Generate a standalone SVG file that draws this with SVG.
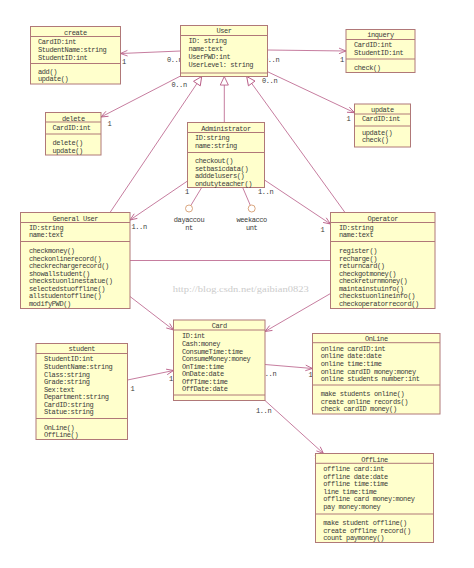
<svg xmlns="http://www.w3.org/2000/svg" width="474" height="568" viewBox="0 0 474 568">
<defs>
<style>
rect.b{fill:#FFFFCC;stroke:#B07878;stroke-width:1}
line.s{stroke:#B07878;stroke-width:1}
text{font-family:"Liberation Mono","DejaVu Sans Mono",monospace;font-size:7px;letter-spacing:-0.4px;fill:#3a3a3a}
text.c{text-anchor:middle}
.cn line,.cn path{stroke:#B85C86;stroke-width:0.8;fill:none}
.cn circle{stroke:#D09060;stroke-width:0.8;fill:#fff}
.wm{font-family:"Liberation Serif",serif;font-size:8.5px;fill:#cccccc;letter-spacing:0}
</style>
<marker id="arr" viewBox="0 0 10 10" refX="10" refY="5" markerWidth="7" markerHeight="7" markerUnits="userSpaceOnUse" orient="auto" overflow="visible"><path d="M0,1 L10,5 L0,9" fill="none" stroke="#B85C86" stroke-width="1.2"/></marker>
<marker id="gen" viewBox="0 0 10 10" refX="10" refY="5" markerWidth="9" markerHeight="9" markerUnits="userSpaceOnUse" orient="auto-start-reverse" overflow="visible"><path d="M0.5,0.5 L10,5 L0.5,9.5 z" fill="#fff" stroke="#B85C86" stroke-width="1"/></marker>
</defs>
<rect width="474" height="568" fill="#fff"/>
<text class="wm" x="172.7" y="292" textLength="136" lengthAdjust="spacingAndGlyphs">http://blog.csdn.net/gaibian0823</text>

<g id="connectors" class="cn">
<line x1="180.5" y1="51" x2="120.5" y2="53.5" marker-end="url(#arr)"/>
<line x1="180.5" y1="76" x2="101" y2="117" marker-end="url(#arr)"/>
<line x1="267.5" y1="50" x2="346" y2="51" marker-end="url(#arr)"/>
<line x1="267.5" y1="71.7" x2="354.5" y2="112.7" marker-end="url(#arr)"/>
<path d="M201.7,76.5 L110,212.5" marker-start="url(#gen)"/>
<path d="M224.3,76.5 L224.3,122.5" marker-start="url(#gen)"/>
<path d="M246.7,76.5 L345,212.5" marker-start="url(#gen)"/>
<line x1="187.5" y1="181" x2="130" y2="220" marker-end="url(#arr)"/>
<line x1="264.5" y1="180" x2="330.5" y2="224" marker-end="url(#arr)"/>
<line x1="201.7" y1="187.5" x2="190.8" y2="205.5"/>
<circle cx="189" cy="208.5" r="3.5"/>
<line x1="242.7" y1="187.5" x2="250.3" y2="205.3"/>
<circle cx="251.7" cy="208.5" r="3.5"/>
<line x1="130" y1="260.5" x2="330.5" y2="260.5"/>
<line x1="130" y1="296.5" x2="173.5" y2="330" marker-end="url(#arr)"/>
<line x1="330.5" y1="293.5" x2="265" y2="331.5" marker-end="url(#arr)"/>
<line x1="127.5" y1="380" x2="173.5" y2="370.5" marker-end="url(#arr)"/>
<line x1="265" y1="364.5" x2="312.5" y2="368.5" marker-end="url(#arr)"/>
<line x1="265" y1="400.5" x2="323.5" y2="453.5" marker-end="url(#arr)"/>
<text x="167" y="62.3">0..n</text>
<text x="122" y="64">1</text>
<text x="171.5" y="87.3">0..n</text>
<text x="107.5" y="125.5">1</text>
<text x="264" y="61.6">0..n</text>
<text x="340" y="61.6">1</text>
<text x="262" y="83.3">0..n</text>
<text x="346.5" y="120.5">1</text>
<text x="185" y="194">1</text>
<text x="131.5" y="229">1..n</text>
<text x="258" y="194">1..n</text>
<text x="320.5" y="232.3">1</text>
<text class="c" x="189" y="222.3">dayaccou</text>
<text class="c" x="189" y="230">nt</text>
<text class="c" x="251.7" y="222.3">weekacco</text>
<text class="c" x="251.7" y="230">unt</text>
<text x="130.5" y="390.5">1</text>
<text x="169" y="381">1</text>
<text x="261" y="375.5">1..n</text>
<text x="308.5" y="377.3">1</text>
<text x="256" y="412.5">1..n</text>
<text x="314.5" y="458.5">1</text>
</g>

<g id="create">
<rect class="b" x="30.5" y="26.5" width="90" height="57.5"/>
<line class="s" x1="30.5" y1="36.5" x2="120.5" y2="36.5"/>
<line class="s" x1="30.5" y1="63.5" x2="120.5" y2="63.5"/>
<text class="c" x="75.5" y="34.5">create</text>
<text x="38" y="43.5">CardID:int</text>
<text x="38" y="51.5">StudentName:string</text>
<text x="38" y="59.5">StudentID:int</text>
<text x="38" y="73.5">add()</text>
<text x="38" y="81.3">update()</text>
</g>

<g id="user">
<rect class="b" x="180.5" y="25.5" width="87" height="51"/>
<line class="s" x1="180.5" y1="35.5" x2="267.5" y2="35.5"/>
<line class="s" x1="180.5" y1="73" x2="267.5" y2="73"/>
<text class="c" x="224" y="33.3">User</text>
<text x="188.5" y="43">ID: string</text>
<text x="188.5" y="51">name:text</text>
<text x="188.5" y="59">UserPWD:int</text>
<text x="188.5" y="66.8">UserLevel: string</text>
</g>

<g id="inquery">
<rect class="b" x="346" y="29.5" width="69" height="43"/>
<line class="s" x1="346" y1="39.5" x2="415" y2="39.5"/>
<line class="s" x1="346" y1="59" x2="415" y2="59"/>
<text class="c" x="380.5" y="37.3">inquery</text>
<text x="354" y="47.3">CardID:int</text>
<text x="354" y="55.3">StudentID:int</text>
<text x="354" y="69.5">check()</text>
</g>

<g id="update">
<rect class="b" x="354.5" y="104" width="56" height="43"/>
<line class="s" x1="354.5" y1="114" x2="410.5" y2="114"/>
<line class="s" x1="354.5" y1="126" x2="410.5" y2="126"/>
<text class="c" x="382.5" y="112">update</text>
<text x="362" y="120.8">CardID:int</text>
<text x="362" y="134.6">update()</text>
<text x="362" y="142.3">check()</text>
</g>

<g id="delete">
<rect class="b" x="45.5" y="112.5" width="55.5" height="42.5"/>
<line class="s" x1="45.5" y1="122" x2="101" y2="122"/>
<line class="s" x1="45.5" y1="134" x2="101" y2="134"/>
<text class="c" x="73.3" y="120.5">delete</text>
<text x="52.5" y="130">CardID:int</text>
<text x="52.5" y="144.6">delete()</text>
<text x="52.5" y="152.8">update()</text>
</g>

<g id="administrator">
<rect class="b" x="187.5" y="122.5" width="77" height="65"/>
<line class="s" x1="187.5" y1="132.5" x2="264.5" y2="132.5"/>
<line class="s" x1="187.5" y1="152.5" x2="264.5" y2="152.5"/>
<text class="c" x="226" y="130.6">Administrator</text>
<text x="195" y="139.6">ID:string</text>
<text x="195" y="147.6">name:string</text>
<text x="195" y="163">checkout()</text>
<text x="195" y="170.6">setbasicdata()</text>
<text x="195" y="178.3">adddelusers()</text>
<text x="195" y="185.6">ondutyteacher()</text>
</g>

<g id="general-user">
<rect class="b" x="20.5" y="212.5" width="109.5" height="96"/>
<line class="s" x1="20.5" y1="222.5" x2="130" y2="222.5"/>
<line class="s" x1="20.5" y1="241.5" x2="130" y2="241.5"/>
<text class="c" x="75.3" y="220.6">General User</text>
<text x="29" y="229.6">ID:string</text>
<text x="29" y="237.3">name:text</text>
<text x="29" y="253">checkmoney()</text>
<text x="29" y="260.5">checkonlinerecord()</text>
<text x="29" y="268">checkrechargerecord()</text>
<text x="29" y="275.5">showallstudent()</text>
<text x="29" y="283">checkstuonlinestatue()</text>
<text x="29" y="290.5">selectedstuoffline()</text>
<text x="29" y="298">allstudentoffline()</text>
<text x="29" y="305.5">modifyPWD()</text>
</g>

<g id="operator">
<rect class="b" x="330.5" y="212.5" width="104.5" height="96"/>
<line class="s" x1="330.5" y1="222.5" x2="435" y2="222.5"/>
<line class="s" x1="330.5" y1="241.5" x2="435" y2="241.5"/>
<text class="c" x="382.8" y="220.6">Operator</text>
<text x="339" y="229.6">ID:string</text>
<text x="339" y="237.3">name:text</text>
<text x="339" y="253">register()</text>
<text x="339" y="260.5">recharge()</text>
<text x="339" y="268">returncard()</text>
<text x="339" y="275.5">checkgotmoney()</text>
<text x="339" y="283">checkreturnmoney()</text>
<text x="339" y="290.5">maintainstuinfo()</text>
<text x="339" y="298">checkstuonlineinfo()</text>
<text x="339" y="305.5">checkoperatorrecord()</text>
</g>

<g id="card">
<rect class="b" x="173.5" y="320" width="91.5" height="80.5"/>
<line class="s" x1="173.5" y1="330" x2="265" y2="330"/>
<line class="s" x1="173.5" y1="395" x2="265" y2="395"/>
<text class="c" x="219.3" y="327.5">Card</text>
<text x="182" y="338">ID:int</text>
<text x="182" y="345.8">Cash:money</text>
<text x="182" y="353.5">ConsumeTime:time</text>
<text x="182" y="361">ConsumeMoney:money</text>
<text x="182" y="368.6">OnTime:time</text>
<text x="182" y="376.2">OnDate:date</text>
<text x="182" y="383.8">OffTime:time</text>
<text x="182" y="391.3">OffDate:date</text>
</g>

<g id="student">
<rect class="b" x="36" y="343.5" width="91.5" height="96"/>
<line class="s" x1="36" y1="353.5" x2="127.5" y2="353.5"/>
<line class="s" x1="36" y1="418.5" x2="127.5" y2="418.5"/>
<text class="c" x="81.8" y="350.8">student</text>
<text x="44" y="361.3">StudentID:int</text>
<text x="44" y="369">StudentName:string</text>
<text x="44" y="376.6">Class:string</text>
<text x="44" y="384">Grade:string</text>
<text x="44" y="391.6">Sex:text</text>
<text x="44" y="399">Department:string</text>
<text x="44" y="406.6">CardID:string</text>
<text x="44" y="414">Statue:string</text>
<text x="44" y="429.6">OnLine()</text>
<text x="44" y="437">OffLine()</text>
</g>

<g id="online">
<rect class="b" x="312.5" y="333.5" width="127.5" height="80.5"/>
<line class="s" x1="312.5" y1="342.7" x2="440" y2="342.7"/>
<line class="s" x1="312.5" y1="385" x2="440" y2="385"/>
<text class="c" x="376.3" y="341">OnLine</text>
<text x="320.7" y="350.6">online cardID:int</text>
<text x="320.7" y="358.3">online date:date</text>
<text x="320.7" y="366">online time:time</text>
<text x="320.7" y="373.6">online cardID money:money</text>
<text x="320.7" y="381.2">online students number:int</text>
<text x="320.7" y="396.3">make students online()</text>
<text x="320.7" y="403.7">create online records()</text>
<text x="320.7" y="411.3">check cardID money()</text>
</g>

<g id="offline">
<rect class="b" x="315.5" y="453.5" width="118" height="89"/>
<line class="s" x1="315.5" y1="463.3" x2="433.5" y2="463.3"/>
<line class="s" x1="315.5" y1="514" x2="433.5" y2="514"/>
<text class="c" x="374.5" y="461.6">OffLine</text>
<text x="323.3" y="471.3">offline card:int</text>
<text x="323.3" y="478.8">offline date:date</text>
<text x="323.3" y="486.3">offline time:time</text>
<text x="323.3" y="493.8">line time:time</text>
<text x="323.3" y="501.2">offline card money:money</text>
<text x="323.3" y="508.7">pay money:money</text>
<text x="323.3" y="525">make student offline()</text>
<text x="323.3" y="532.5">create offline record()</text>
<text x="323.3" y="540">count paymoney()</text>
</g>
</svg>
